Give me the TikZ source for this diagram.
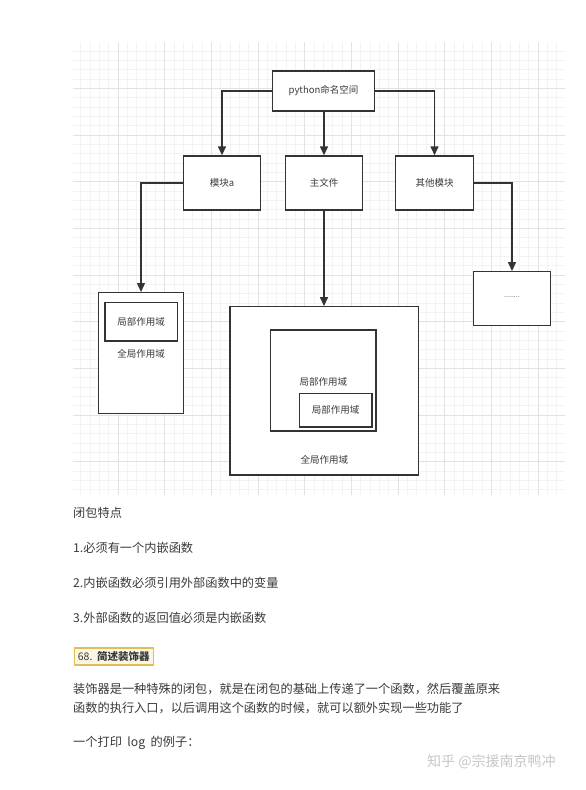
\documentclass[tikz,border=0pt]{standalone}
\usepackage{fontspec}
\setmainfont{Noto Sans CJK SC}
\usetikzlibrary{arrows.meta}
\definecolor{lc}{HTML}{333333}
\definecolor{tc}{HTML}{3A3A3A}
\definecolor{minorc}{HTML}{F3F3F3}
\definecolor{majorc}{HTML}{E2E2E2}
\definecolor{goldc}{HTML}{E3BE55}
\definecolor{creamc}{HTML}{FBF5E4}
\tikzset{
  box/.style={draw=lc,line width=1.4pt,fill=white,inner sep=0pt,font=\fontsize{9.5}{11}\selectfont,text=tc},
  lbl/.style={inner sep=0pt,font=\fontsize{9.5}{11}\selectfont,text=tc},
  arr/.style={draw=lc,line width=1.4pt,-{Triangle[length=9pt,width=8pt]}},
  body/.style={anchor=west,inner sep=0pt,font=\fontsize{12.2}{14}\selectfont,text=tc},
}
\begin{document}
\begin{tikzpicture}[x=1pt,y=-1pt]
\useasboundingbox[fill=white] (0,0) rectangle (586,790);
% grid
\begin{scope}
\clip (73,42) rectangle (565,495);
\foreach \i in {0,...,54}{
  \pgfmathsetmacro\xx{71.33+9.333*\i}
  \draw[minorc,line width=0.5pt] (\xx,42) -- (\xx,495);
}
\foreach \i in {0,...,50}{
  \pgfmathsetmacro\yy{41.7+9.333*\i}
  \draw[minorc,line width=0.5pt] (73,\yy) -- (565,\yy);
}
\foreach \i in {0,...,11}{
  \pgfmathsetmacro\xx{71.33+46.667*\i}
  \draw[majorc,line width=0.6pt] (\xx,42) -- (\xx,495);
}
\foreach \i in {0,...,10}{
  \pgfmathsetmacro\yy{41.7+46.667*\i}
  \draw[majorc,line width=0.6pt] (73,\yy) -- (565,\yy);
}
\end{scope}
% top level
\node[box,minimum width=101.6pt,minimum height=40pt] (py) at (323.5,91) {python命名空间};
\node[box,minimum width=77.4pt,minimum height=54pt] (ma) at (222,183) {模块a};
\node[box,minimum width=77.4pt,minimum height=54pt] (zw) at (324,183) {主文件};
\node[box,minimum width=77.6pt,minimum height=54pt] (qt) at (434.5,183) {其他模块};
% left scope box
\node[box,minimum width=85.4pt,minimum height=120.6pt] (ga) at (141,353) {};
\node[box,minimum width=72.3pt,minimum height=38.7pt] (la) at (141.2,321.7) {局部作用域};
\node[lbl] (gal) at (141,354.3) {全局作用域};
% big scope box
\node[box,minimum width=188.3pt,minimum height=168.3pt] (big) at (324.2,390.9) {};
\node[box,minimum width=105.3pt,minimum height=101pt] (mid) at (323.3,380.5) {};
\node[lbl] (midl) at (323.3,381.7) {局部作用域};
\node[box,minimum width=72.7pt,minimum height=33.7pt] (sm) at (335.7,410.2) {局部作用域};
\node[lbl] (bigl) at (324.3,460) {全局作用域};
% dots box
\node[box,minimum width=77.4pt,minimum height=54pt] (dots) at (512,298.7) {\raisebox{3pt}{\fontsize{7}{8}\selectfont ........}};
% connectors
\draw[arr] (py.west) -| (ma.north);
\draw[arr] (py.south -| zw.north) -- (zw.north);
\draw[arr] (py.east) -| (qt.north);
\draw[arr] (ma.west) -| (ga.north);
\draw[arr] (zw.south) -- (big.north -| zw.south);
\draw[arr] (qt.east) -| (dots.north);
% text
\node[body] (t0) at (73,512.7) {闭包特点};
\node[body] (t1) at (73,547.7) {1.必须有一个内嵌函数};
\node[body] (t2) at (73,582.7) {2.内嵌函数必须引用外部函数中的变量};
\node[body] (t3) at (73,617.7) {3.外部函数的返回值必须是内嵌函数};
\node[draw=goldc,line width=1.6pt,fill=creamc,inner sep=0pt,minimum width=79pt,minimum height=17pt,anchor=west,font=\fontsize{10.5}{12}\selectfont,text=tc] (h) at (73.5,656.2) {68.\ \ \textbf{简述装饰器}};
\node[body] (p1) at (73,689) {装饰器是一种特殊的闭包，就是在闭包的基础上传递了一个函数，然后覆盖原来};
\node[body] (p2) at (73,707.7) {函数的执行入口，以后调用这个函数的时候，就可以额外实现一些功能了};
\node[body] (p3) at (73,742.7) {一个打印\ \ log\ \ 的例子：};
\node[anchor=west,inner sep=0pt,font=\fontsize{14}{16}\selectfont,text=black!22] (wm) at (427,762) {知乎\ @宗援南京鸭冲};
\end{tikzpicture}
\end{document}
